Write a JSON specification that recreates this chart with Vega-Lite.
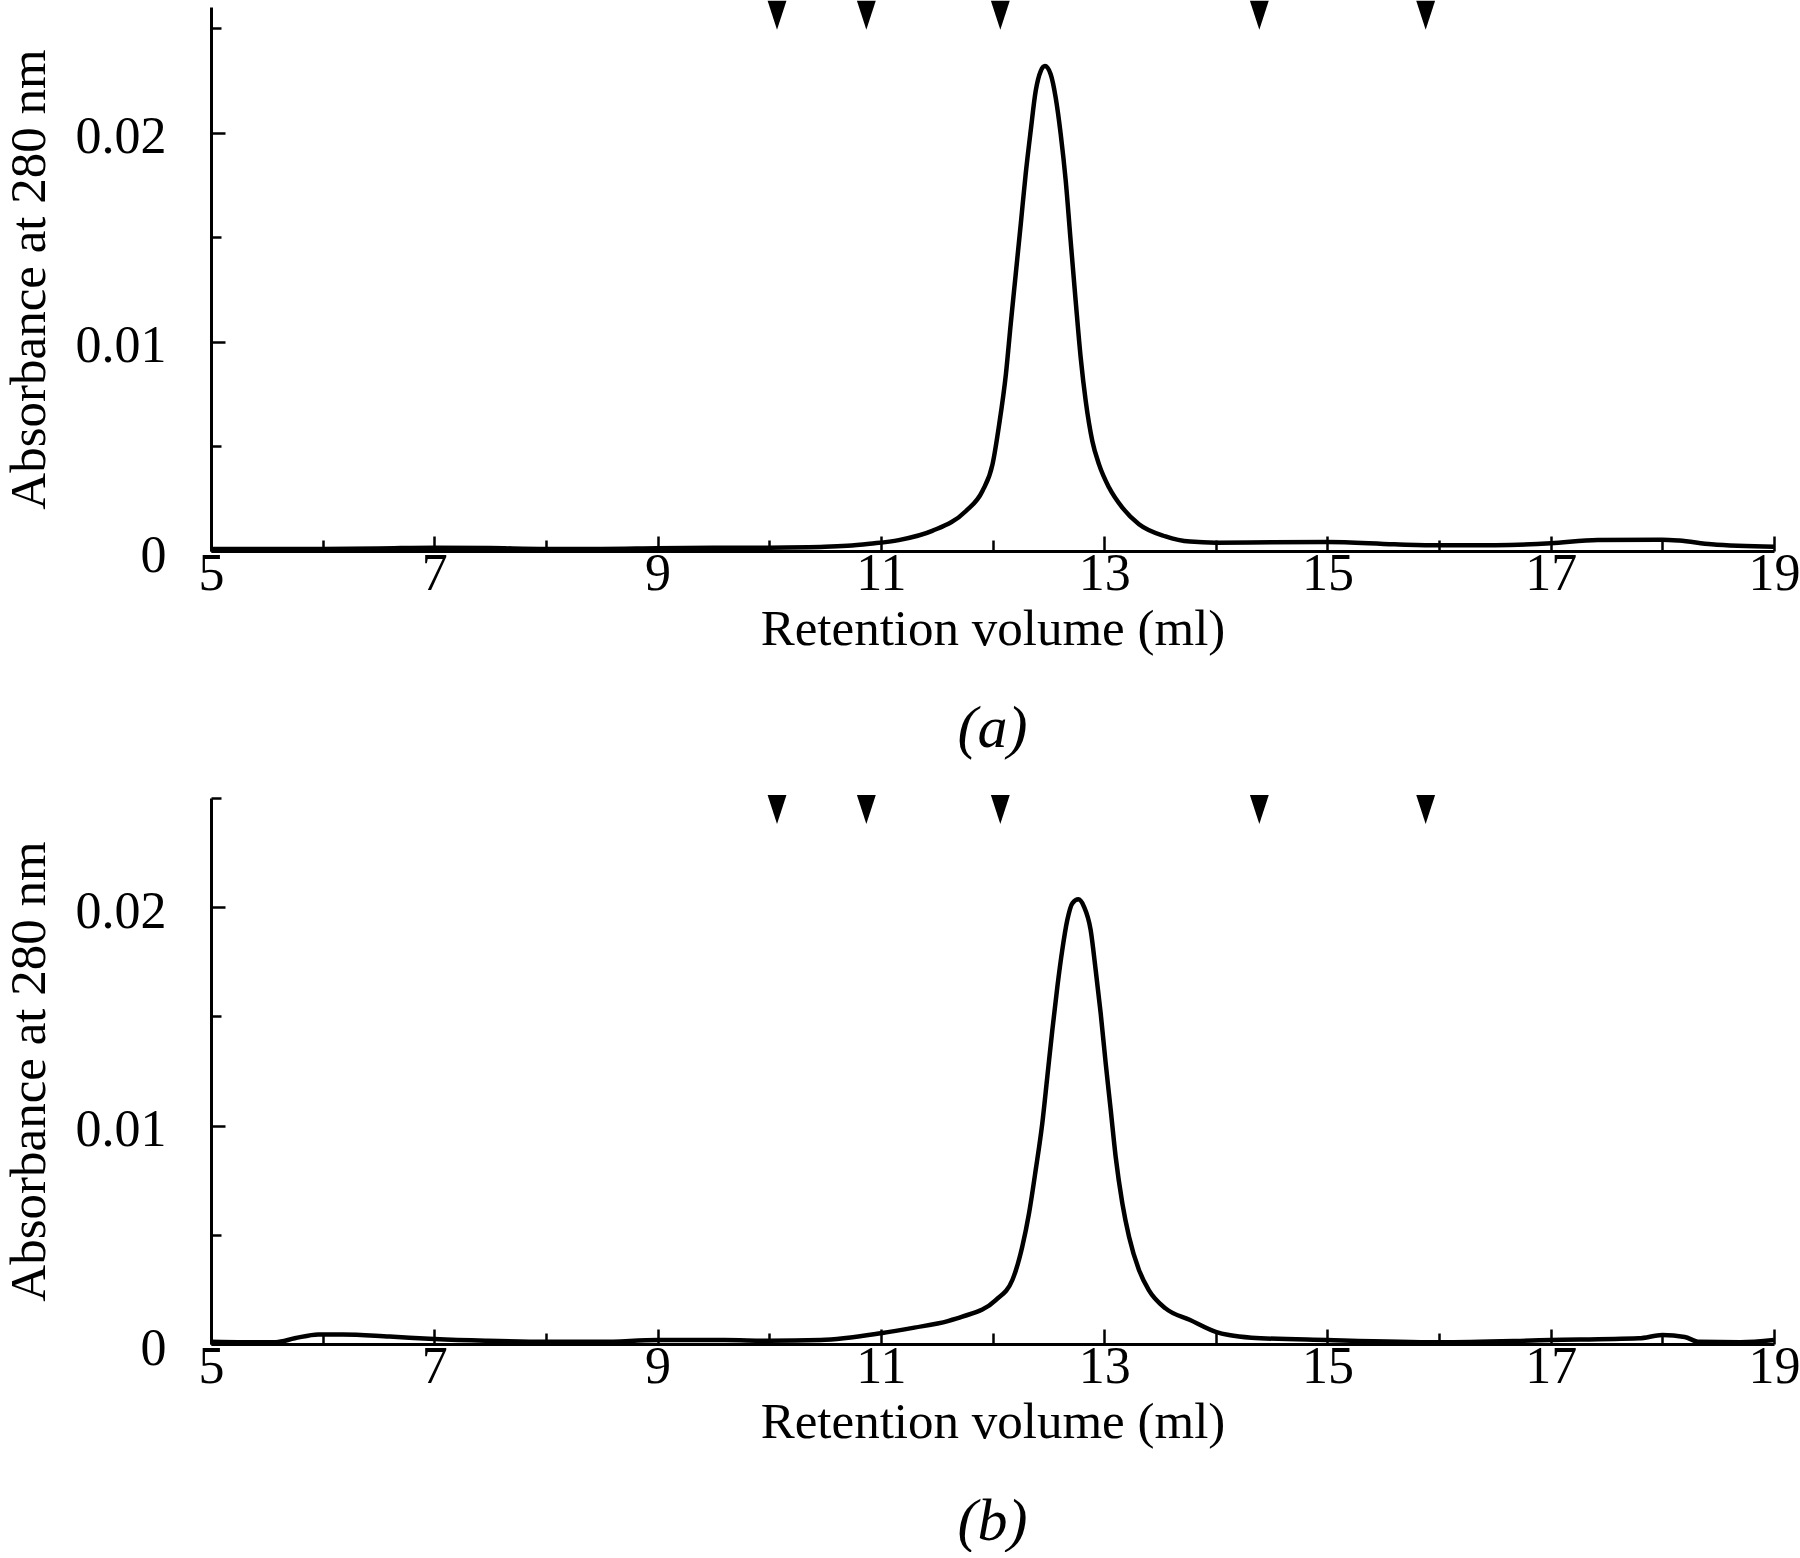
{
  "$schema": "https://vega.github.io/schema/vega-lite/v6.json",
  "background": "white",
  "padding": {"left": 3, "top": 0, "right": 0, "bottom": 0},
  "spacing": 17,
  "config": {
    "view": {"stroke": null},
    "font": "Liberation Serif",
    "axis": {
      "grid": false,
      "domainColor": "black",
      "domainWidth": 3,
      "tickColor": "black",
      "tickWidth": 2.5,
      "labelFont": "Liberation Serif",
      "labelFontSize": 52,
      "labelColor": "black",
      "titleFont": "Liberation Serif",
      "titleFontSize": 51,
      "titleFontWeight": "normal",
      "titleColor": "black",
      "labelOverlap": false,
      "labelFlush": false
    },
    "title": {
      "font": "Liberation Serif",
      "fontSize": 60,
      "fontStyle": "italic",
      "fontWeight": "normal",
      "orient": "bottom",
      "anchor": "middle",
      "offset": 46,
      "color": "black"
    }
  },
  "datasets": {
    "a": [
      {"volume": 5.0, "absorbance": 0.0001},
      {"volume": 5.5, "absorbance": 0.0001},
      {"volume": 6.0, "absorbance": 0.0001},
      {"volume": 6.5, "absorbance": 0.00012},
      {"volume": 7.0, "absorbance": 0.00016},
      {"volume": 7.5, "absorbance": 0.00014},
      {"volume": 8.0, "absorbance": 0.0001},
      {"volume": 8.5, "absorbance": 0.0001},
      {"volume": 9.0, "absorbance": 0.00013},
      {"volume": 9.5, "absorbance": 0.00015},
      {"volume": 10.0, "absorbance": 0.00016},
      {"volume": 10.5, "absorbance": 0.0002},
      {"volume": 10.7, "absorbance": 0.00025},
      {"volume": 10.9, "absorbance": 0.00035},
      {"volume": 11.16, "absorbance": 0.00052},
      {"volume": 11.46, "absorbance": 0.00096},
      {"volume": 11.76, "absorbance": 0.0019},
      {"volume": 11.91, "absorbance": 0.00287},
      {"volume": 12.0, "absorbance": 0.00414},
      {"volume": 12.06, "absorbance": 0.00606},
      {"volume": 12.12, "absorbance": 0.00845},
      {"volume": 12.163, "absorbance": 0.01084},
      {"volume": 12.208, "absorbance": 0.01323},
      {"volume": 12.253, "absorbance": 0.01562},
      {"volume": 12.297, "absorbance": 0.01801},
      {"volume": 12.342, "absorbance": 0.02008},
      {"volume": 12.387, "absorbance": 0.02199},
      {"volume": 12.432, "absorbance": 0.02294},
      {"volume": 12.47, "absorbance": 0.02318},
      {"volume": 12.521, "absorbance": 0.02279},
      {"volume": 12.566, "absorbance": 0.02167},
      {"volume": 12.611, "absorbance": 0.01992},
      {"volume": 12.656, "absorbance": 0.01769},
      {"volume": 12.7, "absorbance": 0.01482},
      {"volume": 12.745, "absorbance": 0.01195},
      {"volume": 12.79, "absorbance": 0.00924},
      {"volume": 12.835, "absorbance": 0.00717},
      {"volume": 12.894, "absorbance": 0.00526},
      {"volume": 12.954, "absorbance": 0.00414},
      {"volume": 13.044, "absorbance": 0.00303},
      {"volume": 13.163, "absorbance": 0.00207},
      {"volume": 13.312, "absorbance": 0.00128},
      {"volume": 13.55, "absorbance": 0.0007},
      {"volume": 13.77, "absorbance": 0.00045},
      {"volume": 14.0, "absorbance": 0.0004},
      {"volume": 14.5, "absorbance": 0.00042},
      {"volume": 15.0, "absorbance": 0.00043},
      {"volume": 15.6, "absorbance": 0.00032},
      {"volume": 16.0, "absorbance": 0.00027},
      {"volume": 16.5, "absorbance": 0.00028},
      {"volume": 17.0, "absorbance": 0.00037},
      {"volume": 17.42, "absorbance": 0.00053},
      {"volume": 18.0, "absorbance": 0.00054},
      {"volume": 18.15, "absorbance": 0.0005},
      {"volume": 18.44, "absorbance": 0.00032},
      {"volume": 19.0, "absorbance": 0.0002}
    ],
    "b": [
      {"volume": 5.0, "absorbance": 0.0001},
      {"volume": 5.3, "absorbance": 0.00008},
      {"volume": 5.58, "absorbance": 0.00008},
      {"volume": 5.75, "absorbance": 0.00026},
      {"volume": 5.96, "absorbance": 0.00044},
      {"volume": 6.18, "absorbance": 0.00044},
      {"volume": 6.6, "absorbance": 0.00034},
      {"volume": 7.0, "absorbance": 0.00023},
      {"volume": 7.46, "absorbance": 0.00015},
      {"volume": 8.0, "absorbance": 0.0001},
      {"volume": 8.5, "absorbance": 0.0001},
      {"volume": 9.0, "absorbance": 0.00018},
      {"volume": 9.6, "absorbance": 0.00018},
      {"volume": 10.0, "absorbance": 0.00015},
      {"volume": 10.46, "absorbance": 0.00018},
      {"volume": 11.0, "absorbance": 0.00049},
      {"volume": 11.3, "absorbance": 0.00075},
      {"volume": 11.6, "absorbance": 0.00105},
      {"volume": 11.73, "absorbance": 0.00125},
      {"volume": 12.029, "absorbance": 0.00201},
      {"volume": 12.178, "absorbance": 0.00293},
      {"volume": 12.267, "absorbance": 0.00446},
      {"volume": 12.327, "absorbance": 0.00598},
      {"volume": 12.387, "absorbance": 0.00797},
      {"volume": 12.446, "absorbance": 0.01011},
      {"volume": 12.491, "absorbance": 0.01224},
      {"volume": 12.536, "absorbance": 0.01438},
      {"volume": 12.581, "absorbance": 0.01636},
      {"volume": 12.625, "absorbance": 0.01804},
      {"volume": 12.67, "absorbance": 0.01941},
      {"volume": 12.715, "absorbance": 0.02018},
      {"volume": 12.769, "absorbance": 0.02036},
      {"volume": 12.82, "absorbance": 0.02002},
      {"volume": 12.879, "absorbance": 0.01896},
      {"volume": 12.924, "absorbance": 0.01713},
      {"volume": 12.969, "absorbance": 0.01514},
      {"volume": 13.014, "absorbance": 0.01285},
      {"volume": 13.059, "absorbance": 0.01071},
      {"volume": 13.103, "absorbance": 0.00858},
      {"volume": 13.163, "absorbance": 0.00644},
      {"volume": 13.223, "absorbance": 0.00491},
      {"volume": 13.312, "absorbance": 0.00339},
      {"volume": 13.4, "absorbance": 0.00247},
      {"volume": 13.55, "absorbance": 0.00163},
      {"volume": 13.77, "absorbance": 0.0011},
      {"volume": 14.0, "absorbance": 0.00056},
      {"volume": 14.118, "absorbance": 0.00041},
      {"volume": 14.32, "absorbance": 0.00029},
      {"volume": 15.0, "absorbance": 0.00018},
      {"volume": 16.0, "absorbance": 0.00008},
      {"volume": 17.0, "absorbance": 0.00018},
      {"volume": 17.79, "absorbance": 0.00026},
      {"volume": 18.0, "absorbance": 0.00041},
      {"volume": 18.2, "absorbance": 0.00032},
      {"volume": 18.33, "absorbance": 0.0001},
      {"volume": 18.7, "absorbance": 0.00008},
      {"volume": 19.0, "absorbance": 0.00018}
    ],
    "markers_a": [
      {"volume": 10.07, "absorbance": 0.0256},
      {"volume": 10.87, "absorbance": 0.0256},
      {"volume": 12.07, "absorbance": 0.0256},
      {"volume": 14.39, "absorbance": 0.0256},
      {"volume": 15.88, "absorbance": 0.0256}
    ],
    "markers_b": [
      {"volume": 10.07, "absorbance": 0.02447},
      {"volume": 10.87, "absorbance": 0.02447},
      {"volume": 12.07, "absorbance": 0.02447},
      {"volume": 14.39, "absorbance": 0.02447},
      {"volume": 15.88, "absorbance": 0.02447}
    ]
  },
  "vconcat": [
    {
      "width": 1563,
      "height": 544,
      "title": {"text": "(a)"},
      "encoding": {
        "x": {
          "field": "volume",
          "type": "quantitative",
          "scale": {"domain": [5, 19], "nice": false, "zero": false},
          "axis": {
            "title": "Retention volume (ml)",
            "values": [5, 6, 7, 8, 9, 10, 11, 12, 13, 14, 15, 16, 17, 18, 19],
            "labelExpr": "datum.value % 2 == 1 ? datum.label : ''",
            "tickSize": {"condition": {"test": "datum.value % 2 == 1", "value": -15}, "value": -11},
            "labelPadding": 12,
            "titlePadding": 1
          }
        },
        "y": {
          "field": "absorbance",
          "type": "quantitative",
          "scale": {"domain": [0, 0.026], "nice": false},
          "axis": {
            "title": "Absorbance at 280 nm",
            "values": [0, 0.005, 0.01, 0.015, 0.02, 0.025],
            "labelExpr": "datum.value == 0 ? '0' : (round(datum.value * 1000) % 10 == 0 ? format(datum.value, '.2f') : '')",
            "tickSize": {"condition": {"test": "round(datum.value * 1000) % 10 == 0", "value": -14}, "value": -10},
            "labelPadding": 59,
            "labelOffset": 4,
            "titlePadding": 20
          }
        }
      },
      "layer": [
        {
          "data": {"name": "a"},
          "mark": {"type": "line", "color": "black", "strokeWidth": 4.5, "interpolate": "monotone"}
        },
        {
          "data": {"name": "markers_a"},
          "mark": {"type": "point", "shape": "M-0.65,-1L0.65,-1L0,1Z", "filled": true, "color": "black", "size": 841, "opacity": 1, "strokeWidth": 0}
        }
      ]
    },
    {
      "width": 1563,
      "height": 546,
      "title": {"text": "(b)"},
      "encoding": {
        "x": {
          "field": "volume",
          "type": "quantitative",
          "scale": {"domain": [5, 19], "nice": false, "zero": false},
          "axis": {
            "title": "Retention volume (ml)",
            "values": [5, 6, 7, 8, 9, 10, 11, 12, 13, 14, 15, 16, 17, 18, 19],
            "labelExpr": "datum.value % 2 == 1 ? datum.label : ''",
            "tickSize": {"condition": {"test": "datum.value % 2 == 1", "value": -15}, "value": -11},
            "labelPadding": 12,
            "titlePadding": 1
          }
        },
        "y": {
          "field": "absorbance",
          "type": "quantitative",
          "scale": {"domain": [0, 0.025], "nice": false},
          "axis": {
            "title": "Absorbance at 280 nm",
            "values": [0, 0.005, 0.01, 0.015, 0.02, 0.025],
            "labelExpr": "datum.value == 0 ? '0' : (round(datum.value * 1000) % 10 == 0 ? format(datum.value, '.2f') : '')",
            "tickSize": {"condition": {"test": "round(datum.value * 1000) % 10 == 0", "value": -14}, "value": -10},
            "labelPadding": 59,
            "labelOffset": 4,
            "titlePadding": 20
          }
        }
      },
      "layer": [
        {
          "data": {"name": "b"},
          "mark": {"type": "line", "color": "black", "strokeWidth": 4.5, "interpolate": "monotone"}
        },
        {
          "data": {"name": "markers_b"},
          "mark": {"type": "point", "shape": "M-0.65,-1L0.65,-1L0,1Z", "filled": true, "color": "black", "size": 841, "opacity": 1, "strokeWidth": 0}
        }
      ]
    }
  ]
}
